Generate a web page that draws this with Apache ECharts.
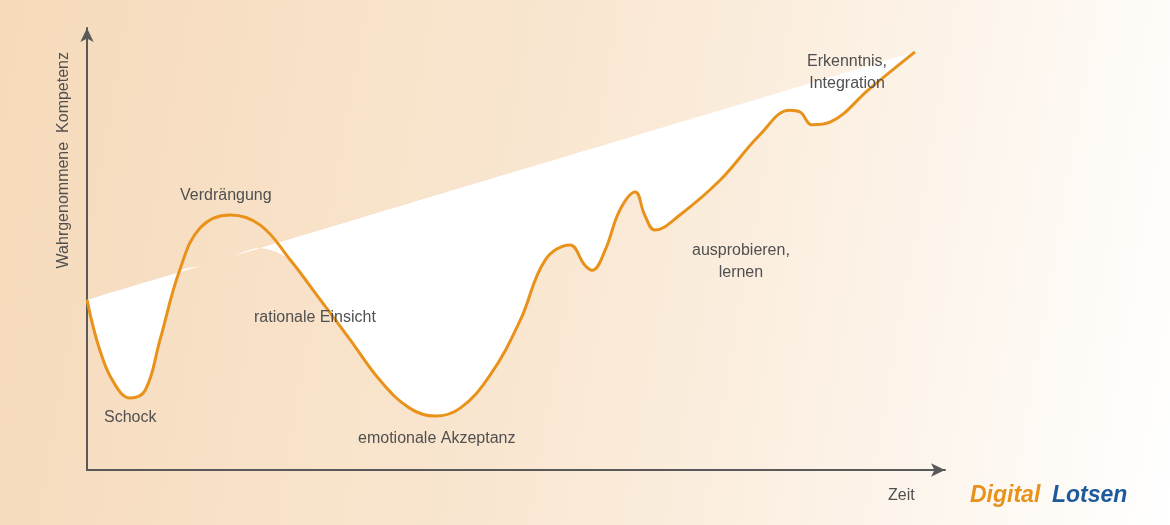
<!DOCTYPE html>
<html>
<head>
<meta charset="utf-8">
<script src="https://cdn.jsdelivr.net/npm/echarts@6/dist/echarts.min.js"></script>
<style>
  html, body { margin: 0; padding: 0; }
  body { background: linear-gradient(100deg, #f6dabb 0%, #f9e6d0 45%, #fcf3e8 75%, #ffffff 100%); }
  #chart { width: 1170px; height: 525px; }
</style>
</head>
<body>
<div id="chart"></div>
<script>
// Kurve der wahrgenommenen Kompetenz (x = Zeit, y = Kompetenz)
var curveX = [0, 1.5, 3.3, 5.0, 6.8, 8.5, 10.8, 13.2, 16.7, 20.2, 23.7, 27.2, 30.7, 34.1, 37.6, 40.6, 43.5, 47.0, 50.5, 53.4, 56.3, 58.0, 58.9, 60.4, 62.1, 63.9, 65.0, 66.2, 69.1, 73.8, 78.4, 81.9, 83.1, 84.5, 86.6, 91.3, 96.5];
var curveY = [38.5, 27.1, 19.2, 16.3, 18.1, 29.4, 45.2, 54.8, 57.7, 55.4, 47.5, 38.5, 29.4, 20.4, 14.0, 12.2, 14.0, 21.5, 33.9, 47.5, 50.9, 46.4, 45.2, 49.8, 58.8, 62.9, 57.7, 54.3, 57.7, 65.6, 75.8, 81.4, 81.0, 78.1, 78.7, 86.4, 94.6];
// gerade Erwartungslinie: Start- und Endpunkt
var lineStart = [0, 38.5];
var lineEnd = [96.5, 94.6];

var chart = echarts.init(document.getElementById('chart'));

// Punkte der Geraden und untere Grenze (min aus Kurve und Gerade)
var linePts = [], lowPts = [], curveData = [];
for (var i = 0; i < curveX.length; i++) {
    var t = (curveX[i] - lineStart[0]) / (lineEnd[0] - lineStart[0]);
    var ly = lineStart[1] + t * (lineEnd[1] - lineStart[1]);
    linePts.push([curveX[i], ly]);
    lowPts.push([curveX[i], Math.min(ly, curveY[i])]);
    curveData.push([curveX[i], curveY[i]]);
}

var font = 'Arial, "Liberation Sans", sans-serif';
function label(x, y, txt, align) {
    return { type: 'text', left: x, top: y, z: 100, style: { text: txt, font: '16px ' + font, fill: '#505050', textAlign: align || 'left', lineHeight: 22 } };
}

var option = {
    animation: false,
    grid: { left: 87, right: 225, top: 28, bottom: 55 },
    xAxis: {
        type: 'value', min: 0, max: 100,
        axisLine: { lineStyle: { color: '#595959', width: 2 }, symbol: ['none', 'arrow'], symbolSize: [10, 14] },
        axisTick: { show: false }, axisLabel: { show: false }, splitLine: { show: false }
    },
    yAxis: {
        type: 'value', min: 0, max: 100,
        axisLine: { show: true, lineStyle: { color: '#595959', width: 2 }, symbol: ['none', 'arrow'], symbolSize: [10, 14] },
        axisTick: { show: false }, axisLabel: { show: false }, splitLine: { show: false }
    },
    series: [
        {
            // weisse Flaeche zwischen Gerade und Kurve
            type: 'custom', silent: true, z: 1,
            data: [0],
            renderItem: function (params, api) {
                var pts = [];
                linePts.forEach(function (p) { pts.push(api.coord(p)); });
                for (var k = lowPts.length - 1; k >= 0; k--) pts.push(api.coord(lowPts[k]));
                return { type: 'polygon', shape: { points: pts, smooth: 0.3 }, style: { fill: '#ffffff' } };
            }
        },
        {
            type: 'line', data: curveData, smooth: 0.4, symbol: 'none',
            lineStyle: { color: '#e8921c', width: 3 }, z: 5
        }
    ],
    graphic: [
        label(104, 407, 'Schock'),
        label(180, 185, 'Verdrängung'),
        label(254, 307, 'rationale Einsicht'),
        label(358, 428, 'emotionale Akzeptanz'),
        label(692, 240, 'ausprobieren,\nlernen', 'center'),
        label(807, 51, 'Erkenntnis,\nIntegration', 'center'),
        label(888, 485, 'Zeit'),
        {
            type: 'text', left: 56, top: 52, rotation: Math.PI / 2, z: 100,
            style: { text: 'Wahrgenommene  Kompetenz', font: '16px ' + font, fill: '#505050' }
        },
        {
            type: 'text', left: 970, top: 484,
            style: { text: 'Digital', font: 'italic bold 23px ' + font, fill: '#e8921c' }
        },
        {
            type: 'text', left: 1052, top: 484,
            style: { text: 'Lotsen', font: 'italic bold 23px ' + font, fill: '#1d5a9c' }
        }
    ]
};

chart.setOption(option);
</script>
</body>
</html>
